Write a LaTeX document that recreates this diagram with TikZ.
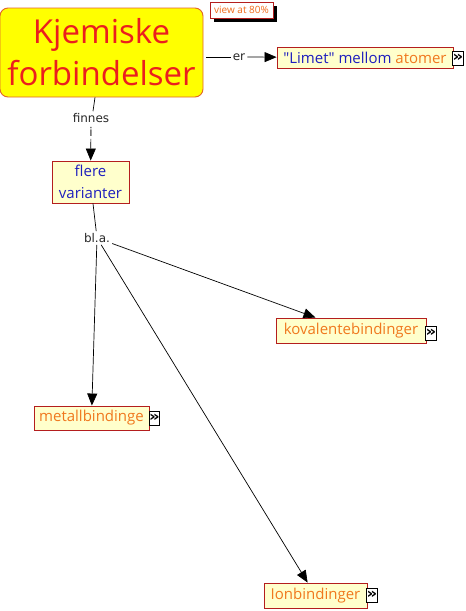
\documentclass[tikz,border=0pt]{standalone}
\usepackage{fontspec}
\setmainfont{Open Sans}
\newfontfamily\lblfont{DejaVu Sans}
\usetikzlibrary{arrows.meta}
\definecolor{mainred}{RGB}{235,30,30}
\definecolor{mainyel}{RGB}{255,255,0}
\definecolor{mainbord}{RGB}{225,100,40}
\definecolor{boxfill}{RGB}{255,255,204}
\definecolor{boxbord}{RGB}{180,30,30}
\definecolor{cblue}{RGB}{30,30,190}
\definecolor{corange}{RGB}{240,120,30}
\definecolor{lblgray}{RGB}{40,40,40}
\newcommand{\chev}{\scalebox{1.5}[1.3]{»}}
\tikzset{
  concept/.style={draw=boxbord, fill=boxfill, line width=0.9pt, inner sep=0pt, font=\fontsize{15}{18}\selectfont},
  icon/.style={draw=black, fill=white, line width=0.8pt, inner sep=0pt, minimum width=10pt, minimum height=14pt, text height=7pt, text depth=0pt, font=\lblfont\bfseries\fontsize{11}{11}\selectfont},
  lbl/.style={text=lblgray, inner sep=2pt, font=\lblfont\fontsize{12}{13}\selectfont, align=center},
  conn/.style={draw=black, line width=0.7pt},
  arr/.style={conn, -{Triangle[length=12pt,width=10pt]}}
}
\begin{document}
\begin{tikzpicture}[x=1pt,y=-1pt]
\useasboundingbox[fill=white] (0,0) rectangle (466,611);
% main concept
\node[draw=mainbord, fill=mainyel, line width=0.9pt, rounded corners=8pt, minimum width=203pt, minimum height=89pt, inner sep=0pt, text=mainred, align=center, font=\fontsize{33}{42}\selectfont] (main) at (101.5,52.5) {Kjemiske\\forbindelser};
% view at 80%
\fill[black] (214,6) rectangle (277,22);
\node[draw=boxbord, fill=white, line width=0.8pt, minimum width=63pt, minimum height=16pt, inner sep=0pt, text=corange!90!red, font=\fontsize{10}{11}\selectfont] (view) at (241.5,10) {view at 80\%};
% concepts
\node[concept, minimum width=176pt, minimum height=21pt] (limet) at (365,57.5) {\textcolor{cblue}{\textquotedbl Limet\textquotedbl{} mellom} \textcolor{corange}{atomer}};
\node[icon] (limetI) at (458,58) {\chev};
\node[concept, minimum width=77pt, minimum height=42pt, align=center, text=cblue, font=\fontsize{15}{22}\selectfont] (flere) at (90.5,182) {flere\\varianter};
\node[concept, minimum width=150pt, minimum height=25pt, text=corange] (kov) at (351,330.5) {kovalentebindinger};
\node[icon] (kovI) at (431,333) {\chev};
\node[concept, minimum width=115pt, minimum height=24pt, text=corange] (met) at (91.5,418) {metallbindinge};
\node[icon] (metI) at (154.5,418) {\chev};
\node[concept, minimum width=103pt, minimum height=25pt, text=corange] (ion) at (315.5,595.5) {Ionbindinger};
\node[icon] (ionI) at (372,595) {\chev};
% linking labels
\node[lbl] (er) at (239,57) {er};
\node[lbl, font=\lblfont\fontsize{12}{14}\selectfont] (finnes) at (91,125) {finnes\\i};
\node[lbl] (bla) at (97,238) {bl.a.};
% connectors
\path (main.east |- er) ++(3,0) coordinate (erS);
\draw[conn] (erS) -- (er);
\draw[arr] (er) -- (limet);
\draw[conn] (main) -- (finnes);
\draw[arr] (finnes) -- (flere);
\draw[conn] (flere) -- (bla);
\draw[arr] (bla) -- (met);
\draw[arr] (bla) -- (kov);
\draw[arr] (bla) -- (ion);
\end{tikzpicture}
\end{document}
